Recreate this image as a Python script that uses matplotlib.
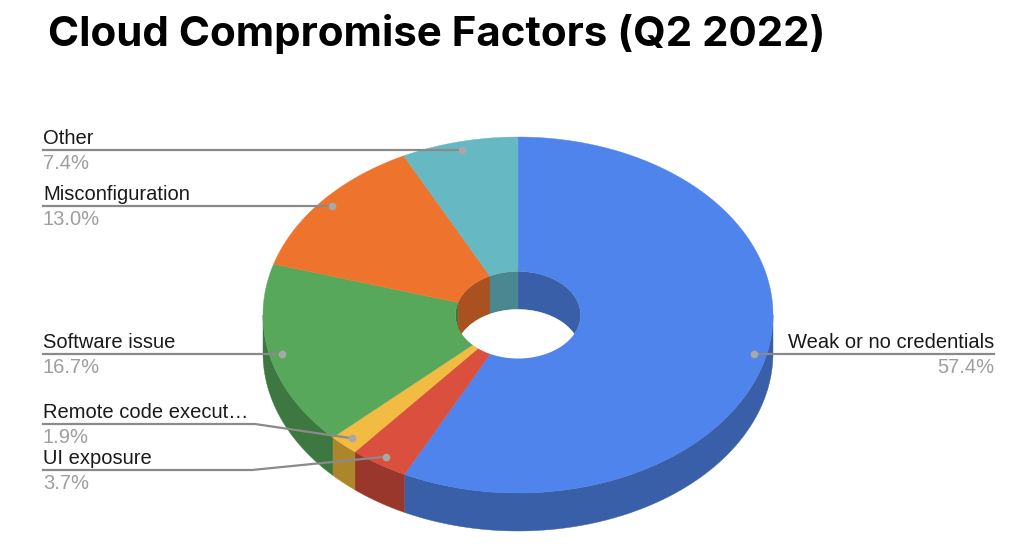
import numpy as np
import matplotlib
matplotlib.use('Agg')
import matplotlib.pyplot as plt
from matplotlib.patches import Ellipse, Polygon

# Slices, clockwise from 12 o'clock
labels = ['Weak or no credentials', 'UI exposure', 'Remote code execut…',
          'Software issue', 'Misconfiguration', 'Other']
pct_labels = ['57.4%', '3.7%', '1.9%', '16.7%', '13.0%', '7.4%']
values = [57.4, 3.7, 1.9, 16.7, 13.0, 7.4]
top_colors = ['#4F84EC', '#DB4F3F', '#F2BB41', '#58A85C', '#EE742E', '#66B9C3']
side_colors = ['#385FA8', '#99372C', '#AD862C', '#3E7841', '#A9521F', '#4A8791']

# Pie geometry in pixels
cx, cy = 518, 315
rx, ry = 255, 178
hole_rx, hole_ry = 62.5, 43.5
depth = 38

fig = plt.figure(figsize=(10.24, 5.55), dpi=100)
ax = fig.add_axes([0, 0, 1, 1])
ax.set_xlim(0, 1024)
ax.set_ylim(555, 0)
ax.axis('off')


def arc(t0, t1, a, b, dy=0):
    t = np.linspace(t0, t1, 200)
    return np.column_stack([cx + a * np.sin(t), cy + dy - b * np.cos(t)])


fractions = np.array(values) / sum(values)
edges = np.concatenate([[0], np.cumsum(fractions)]) * 2 * np.pi

# Outer side wall, only the front half shows
for i in range(len(values)):
    t0, t1 = max(edges[i], np.pi / 2), min(edges[i + 1], 3 * np.pi / 2)
    if t1 > t0:
        top = arc(t0, t1, rx, ry)
        low = arc(t0, t1, rx, ry, depth)
        ax.add_patch(Polygon(np.vstack([top, low[::-1]]), fc=side_colors[i], ec=side_colors[i], lw=0.3))

# Top face
for i in range(len(values)):
    outer = arc(edges[i], edges[i + 1], rx, ry)
    inner = arc(edges[i], edges[i + 1], hole_rx, hole_ry)
    ax.add_patch(Polygon(np.vstack([outer, inner[::-1]]), fc=top_colors[i], ec=top_colors[i], lw=0.3))

# Inner wall seen through the hole, then the white see-through part
hole = Ellipse((cx, cy), 2 * hole_rx, 2 * hole_ry, fc='none', ec='none')
ax.add_patch(hole)
for i in range(len(values)):
    back = arc(edges[i], edges[i + 1], hole_rx, hole_ry)
    wall = Polygon(np.vstack([back, back[::-1] + [0, depth]]), fc=side_colors[i], ec=side_colors[i], lw=0.3)
    ax.add_patch(wall)
    wall.set_clip_path(hole)
see_through = Ellipse((cx, cy + depth), 2 * hole_rx, 2 * hole_ry, fc='white', ec='white', lw=0.3)
ax.add_patch(see_through)
see_through.set_clip_path(hole)

# Leader lines and labels
line_c = '#8A8A8A'
label_font = 'Liberation Sans'
label_size = 14.5
for i, (name, pct) in enumerate(zip(labels, pct_labels)):
    mid = (edges[i] + edges[i + 1]) / 2
    px = cx + 0.95 * rx * np.sin(mid)
    py = cy - 0.95 * ry * np.cos(mid)
    if name == 'Weak or no credentials':
        ax.plot([px, 994], [py, py], color=line_c, lw=1.6, zorder=5)
        ax.text(994, py - 6, name, ha='right', va='baseline', fontsize=label_size, color='#1A1A1A', family=label_font)
        ax.text(994, py + 19, pct, ha='right', va='baseline', fontsize=label_size, color='#9E9E9E', family=label_font)
    else:
        if name == 'Remote code execut…':
            ly = 424
            xs, ys = [43, 255, px], [ly, ly, py]
        elif name == 'UI exposure':
            ly = 470
            xs, ys = [43, 252, px], [ly, ly, py]
        else:
            ly = py
            xs, ys = [43, px], [ly, ly]
        ax.plot(xs, ys, color=line_c, lw=1.6, zorder=5)
        ax.text(43, ly - 6, name, ha='left', va='baseline', fontsize=label_size, color='#1A1A1A', family=label_font)
        ax.text(43, ly + 19, pct, ha='left', va='baseline', fontsize=label_size, color='#9E9E9E', family=label_font)
    ax.plot([px], [py], 'o', ms=5.5, color='#A8A8A8', mec='none', zorder=6)

ax.text(48, 46, 'Cloud Compromise Factors (Q2 2022)', ha='left', va='baseline',
        fontsize=30.3, fontweight='bold', color='black', family='Inter')

fig.savefig('out.png', dpi=100)
